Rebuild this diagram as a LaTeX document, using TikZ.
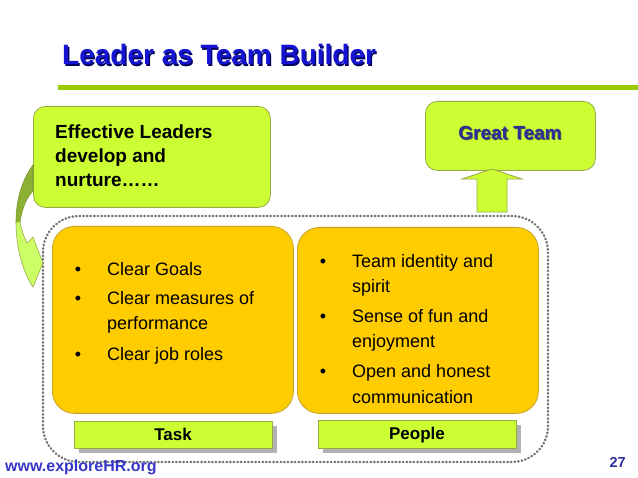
\documentclass[tikz,border=0pt]{standalone}
\usepackage{fontspec}
\setmainfont{Liberation Sans}
\usetikzlibrary{shadows}
\definecolor{lime}{HTML}{CCFF33}
\definecolor{limeedge}{HTML}{99AA44}
\definecolor{gold}{HTML}{FFCC00}
\definecolor{goldedge}{HTML}{C8A030}
\definecolor{titleblue}{HTML}{1414D2}
\definecolor{titleshadow}{HTML}{000060}
\definecolor{navy}{HTML}{2E2E99}
\definecolor{linkblue}{HTML}{3535C8}
\definecolor{bargreen}{HTML}{99CC00}
\definecolor{darkleaf}{HTML}{8CB033}
\definecolor{lightleaf}{HTML}{CCFF66}
\tikzset{
  limebox/.style={fill=lime, draw=limeedge, line width=0.8pt, rounded corners=12pt, anchor=north west, inner sep=0pt},
  goldbox/.style={fill=gold, draw=goldedge, line width=0.8pt, rounded corners=22pt, anchor=north west, inner sep=0pt},
  tagbox/.style={fill=lime, draw=limeedge, line width=0.8pt, anchor=north west, inner sep=0pt,
    drop shadow={shadow xshift=5pt, shadow yshift=-5pt, fill=black!30, opacity=1}},
  boxtxt/.style={anchor=base west, inner sep=0pt, font=\fontsize{19}{24}\selectfont\bfseries},
  bultxt/.style={anchor=base west, inner sep=0pt, font=\fontsize{18}{24}\selectfont},
  bulmark/.style={anchor=base, inner sep=0pt, font=\fontsize{18}{24}\selectfont},
}
\begin{document}
\begin{tikzpicture}[x=1pt,y=-1pt]
\useasboundingbox (0,0) rectangle (638,478);
% title
\node[anchor=base west, inner sep=0pt, text=titleshadow, font=\fontsize{28}{32}\selectfont\bfseries] (titles) at (63.3,66.3) {Leader as Team Builder};
\node[anchor=base west, inner sep=0pt, text=titleblue, font=\fontsize{28}{32}\selectfont\bfseries] (title) at (62,65) {Leader as Team Builder};
\fill[bargreen] (58,85) rectangle (638,90);
% effective leaders box
\node[limebox, minimum width=237pt, minimum height=101pt] (eff) at (33,106) {};
\node[boxtxt] (e1) at (55,139) {Effective Leaders};
\node[boxtxt] (e2) at (55,163) {develop and};
\node[boxtxt] (e3) at (55,187) {nurture……};
% great team box
\node[limebox, minimum width=170pt, minimum height=69pt] (great) at (425,101) {};
\node[anchor=base, inner sep=0pt, text=black!70, font=\fontsize{19}{24}\selectfont\bfseries] (gts) at (511,141) {Great Team};
\node[anchor=base, inner sep=0pt, text=navy, font=\fontsize{19}{24}\selectfont\bfseries] (gt) at (510,140) {Great Team};
% up arrow
\draw[fill=lime, draw=limeedge, line width=0.8pt, line join=miter]
  (477,212) -- (477,179) -- (462,179) -- (492,169) -- (522,179) -- (507,179) -- (507,212) -- cycle;
% dotted frame
\draw[draw=black!55, line width=2.4pt, line cap=round, dash pattern=on 0.6pt off 3pt, rounded corners=36pt]
  (43,216) rectangle (548,462);
% curved arrow
\draw[fill=darkleaf, draw=darkleaf!85!black, line width=0.6pt]
  (33,165) .. controls (22,180) and (16,200) .. (16,222) -- (20,222) .. controls (22,208) and (27,197) .. (33,191) -- cycle;
\draw[fill=lightleaf, draw=limeedge, line width=0.6pt, line join=miter]
  (16,222) .. controls (16,250) and (24,274) .. (33,287) -- (43,263) -- (33,237) -- (27,243) .. controls (23,235) and (21,228) .. (20,222) -- cycle;
% gold boxes
\node[goldbox, minimum width=241pt, minimum height=187pt] (task) at (52,226) {};
\node[goldbox, minimum width=241pt, minimum height=186pt] (people) at (297,227) {};
% left bullets
\node[bulmark] (lb1) at (78,276) {•};
\node[bultxt] (l1) at (107,276) {Clear Goals};
\node[bulmark] (lb2) at (78,305) {•};
\node[bultxt] (l2) at (107,305) {Clear measures of};
\node[bultxt] (l3) at (107,330) {performance};
\node[bulmark] (lb3) at (78,361) {•};
\node[bultxt] (l4) at (107,361) {Clear job roles};
% right bullets
\node[bulmark] (rb1) at (323,268) {•};
\node[bultxt] (r1) at (352,268) {Team identity and};
\node[bultxt] (r2) at (352,293) {spirit};
\node[bulmark] (rb2) at (323,323) {•};
\node[bultxt] (r3) at (352,323) {Sense of fun and};
\node[bultxt] (r4) at (352,348) {enjoyment};
\node[bulmark] (rb3) at (323,378) {•};
\node[bultxt] (r5) at (352,378) {Open and honest};
\node[bultxt] (r6) at (352,404) {communication};
% tag boxes
\node[tagbox, minimum width=198pt, minimum height=27pt] (tasktag) at (74,421) {};
\node[anchor=base, inner sep=0pt, font=\fontsize{17}{20}\selectfont\bfseries] (tasktxt) at (173,441) {Task};
\node[tagbox, minimum width=198pt, minimum height=28pt] (peopletag) at (318,420) {};
\node[anchor=base, inner sep=0pt, font=\fontsize{17}{20}\selectfont\bfseries] (peopletxt) at (417,440) {People};
% footer
\node[anchor=base west, inner sep=0pt, text=linkblue, font=\fontsize{16}{18}\selectfont\bfseries] (www) at (5,472) {www.exploreHR.org};
\node[anchor=base east, inner sep=0pt, text=navy, font=\fontsize{14.5}{16}\selectfont\bfseries] (page) at (626,468) {27};
\end{tikzpicture}
\end{document}
